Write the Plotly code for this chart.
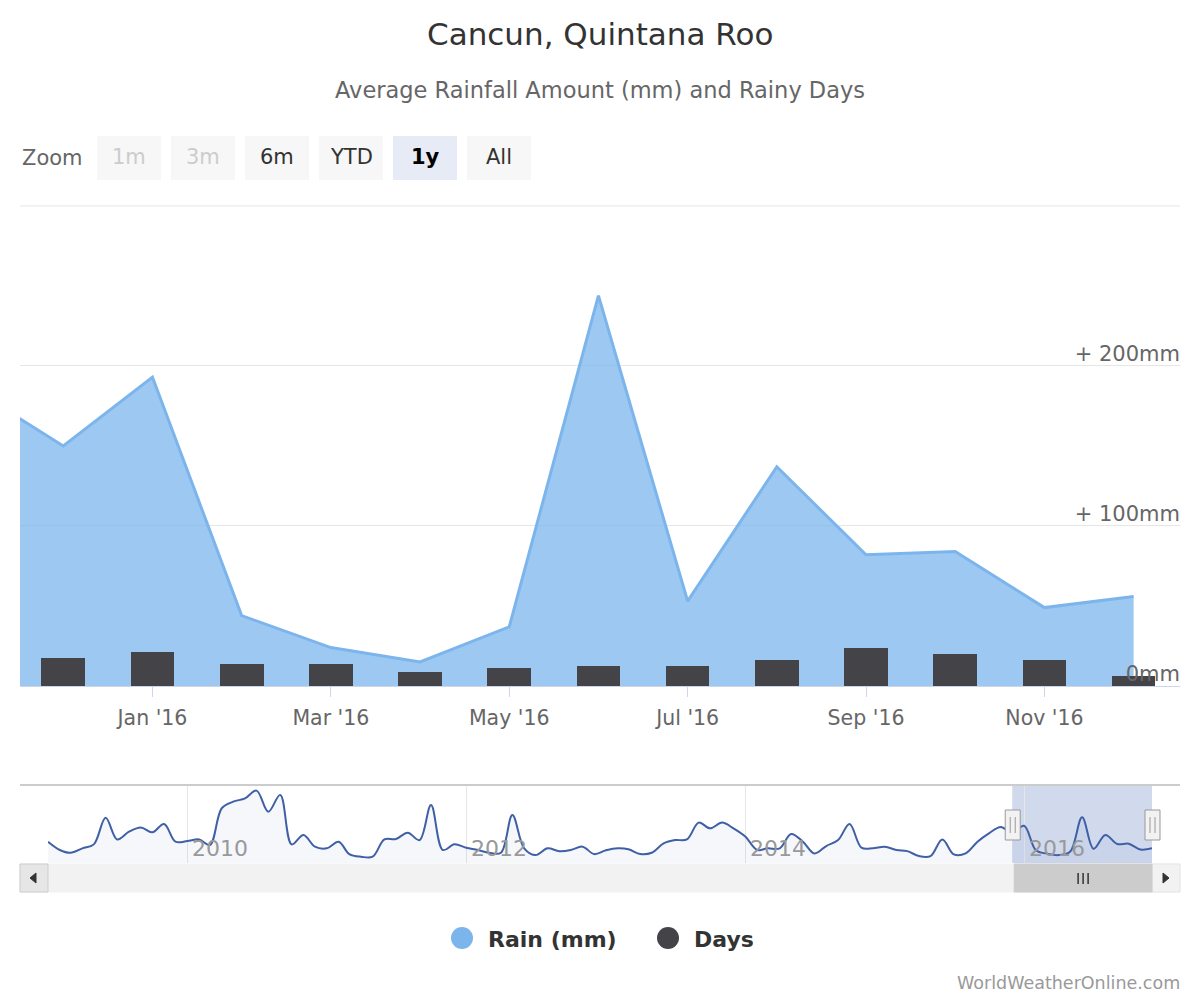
import plotly.graph_objects as go
import pandas as pd

# ---------------- data ----------------
main_months = ["2015-11-01", "2015-12-01", "2016-01-01", "2016-02-01", "2016-03-01",
               "2016-04-01", "2016-05-01", "2016-06-01", "2016-07-01", "2016-08-01",
               "2016-09-01", "2016-10-01", "2016-11-01", "2016-12-01"]
rain_mm = [185, 150, 193, 44, 24, 15, 37, 244, 53, 137, 82, 84, 49, 56]

day_months = main_months[1:]
rainy_days = [14, 17, 11, 11, 7, 9, 10, 10, 13, 19, 16, 13, 5]

history_start = "2009-01-01"
rain_history = [96, 46, 29, 56, 80, 242, 110, 157, 183, 153, 204, 96,
                100, 110, 76, 299, 339, 359, 406, 278, 380, 80, 137, 66,
                56, 96, 21, 5, 5, 110, 112, 151, 106, 319, 46, 80,
                60, 46, 29, 29, 258, 56, 15, 56, 39, 46, 66, 21,
                44, 56, 50, 21, 29, 86, 106, 110, 212, 177, 212, 177,
                127, 46, 56, 56, 143, 96, 25, 70, 106, 204, 60, 56,
                66, 46, 39, 9, 9, 110, 19, 25, 96, 147]

x_tick_vals = ["2016-01-01", "2016-03-01", "2016-05-01", "2016-07-01", "2016-09-01", "2016-11-01"]
x_tick_text = ["Jan '16", "Mar '16", "May '16", "Jul '16", "Sep '16", "Nov '16"]
y_tick_vals = [0, 100, 200, 300]
y_tick_text = ["0mm", "+ 100mm", "+ 200mm", ""]
y_max = 300
nav_years = ["2010", "2012", "2014", "2016"]
zoom_buttons = ["1m", "3m", "6m", "YTD", "1y", "All"]
zoom_state = ["off", "off", "on", "on", "sel", "on"]
selection = ["2015-12-01", "2016-12-01"]

# ---------------- helpers ----------------
W, H = 1200, 1000
def px(x):
    return x / W
def py(y):
    return 1 - y / H

FONT = "DejaVu Sans"

nav_dates = pd.date_range(history_start, periods=len(rain_history) + len(rain_mm), freq="MS")
nav_values = rain_history + rain_mm
NAV_L, NAV_R = 48, 1152
nav_t0, nav_t1 = pd.Timestamp(nav_dates[0]), pd.Timestamp(nav_dates[-1])
def nav_px(d):
    t = pd.Timestamp(d)
    return NAV_L + (t - nav_t0) / (nav_t1 - nav_t0) * (NAV_R - NAV_L)

fig = go.Figure()

# main area (ordinal month axis)
fig.add_trace(go.Scatter(
    x=main_months, y=rain_mm, mode="lines", name="Rain (mm)",
    line=dict(color="#7cb5ec", width=3), fill="tozeroy",
    fillcolor="rgba(124,181,236,0.75)", xaxis="x", yaxis="y", showlegend=False,
    hoverinfo="skip"))

# days bars
fig.add_trace(go.Bar(
    x=day_months, y=rainy_days, name="Days", marker=dict(color="#434348", line=dict(width=0)),
    width=0.49, xaxis="x", yaxis="y2", showlegend=False, hoverinfo="skip"))

# navigator baseline + series
fig.add_trace(go.Scatter(
    x=nav_dates, y=[-33] * len(nav_dates), mode="lines", line=dict(width=0),
    xaxis="x2", yaxis="y3", showlegend=False, hoverinfo="skip"))
fig.add_trace(go.Scatter(
    x=nav_dates, y=nav_values, mode="lines", line=dict(color="#3f5fa6", width=2, shape="spline"),
    fill="tonexty", fillcolor="rgba(51,92,173,0.05)",
    xaxis="x2", yaxis="y3", showlegend=False, hoverinfo="skip"))

shapes = []
annotations = []

# top grid line of main plot
shapes.append(dict(type="line", xref="paper", yref="y", x0=px(20), x1=px(1180), y0=y_max, y1=y_max,
                   line=dict(color="#e6e6e6", width=1), layer="below"))

# title and subtitle
annotations.append(dict(text="Cancun, Quintana Roo", x=0.5, y=py(34), xref="paper", yref="paper",
                        showarrow=False, font=dict(family=FONT, size=31, color="#333333"),
                        xanchor="center", yanchor="middle"))
annotations.append(dict(text="Average Rainfall Amount (mm) and Rainy Days", x=0.5, y=py(90),
                        xref="paper", yref="paper", showarrow=False,
                        font=dict(family=FONT, size=22.5, color="#666666"),
                        xanchor="center", yanchor="middle"))

# zoom label and buttons
annotations.append(dict(text="Zoom", x=px(20), y=py(158), xref="paper", yref="paper", showarrow=False,
                        font=dict(family=FONT, size=21, color="#666666"),
                        xanchor="left", yanchor="middle"))
bx = 97
for label, state in zip(zoom_buttons, zoom_state):
    fill = "#e6ebf5" if state == "sel" else "#f7f7f7"
    shapes.append(dict(type="rect", xref="paper", yref="paper", x0=px(bx), x1=px(bx + 64),
                       y0=py(180), y1=py(136), fillcolor=fill, line=dict(width=0), layer="above"))
    col = "#cccccc" if state == "off" else ("#000000" if state == "sel" else "#333333")
    txt = f"<b>{label}</b>" if state == "sel" else label
    annotations.append(dict(text=txt, x=px(bx + 32), y=py(157), xref="paper", yref="paper",
                            showarrow=False, font=dict(family=FONT, size=21, color=col),
                            xanchor="center", yanchor="middle"))
    bx += 74

# navigator top line
shapes.append(dict(type="line", xref="paper", yref="paper", x0=px(20), x1=px(1180),
                   y0=py(785), y1=py(785), line=dict(color="#cccccc", width=2), layer="above"))
# navigator mask
shapes.append(dict(type="rect", xref="x2", yref="paper", x0=selection[0], x1=selection[1],
                   y0=py(863), y1=py(785), fillcolor="rgba(102,133,194,0.3)",
                   line=dict(width=0), layer="between"))
# handles
for d in selection:
    hx = nav_px(d)
    shapes.append(dict(type="rect", xref="paper", yref="paper", x0=px(hx - 7), x1=px(hx + 8),
                       y0=py(840), y1=py(810), fillcolor="#f2f2f2",
                       line=dict(color="#999999", width=1), layer="above"))
    for off in (-2, 3):
        shapes.append(dict(type="line", xref="paper", yref="paper", x0=px(hx + off), x1=px(hx + off),
                           y0=py(833), y1=py(817),
                           line=dict(color="#999999", width=1), layer="above"))
# navigator year labels
for yr in nav_years:
    annotations.append(dict(text=yr, x=f"{yr}-01-01", y=py(848), xref="x2", yref="paper",
                            showarrow=False, xanchor="left", yanchor="middle", xshift=3,
                            font=dict(family=FONT, size=22, color="#999999")))

# scrollbar
shapes.append(dict(type="rect", xref="paper", yref="paper", x0=px(20), x1=px(1180),
                   y0=py(892), y1=py(864), fillcolor="#f2f2f2", line=dict(color="#f2f2f2", width=1),
                   layer="above"))
shapes.append(dict(type="rect", xref="paper", yref="paper", x0=px(20), x1=px(48),
                   y0=py(892), y1=py(864), fillcolor="#e6e6e6", line=dict(color="#cccccc", width=1),
                   layer="above"))
shapes.append(dict(type="rect", xref="paper", yref="paper", x0=px(1152), x1=px(1180),
                   y0=py(892), y1=py(864), fillcolor="#f2f2f2", line=dict(color="#e6e6e6", width=1),
                   layer="above"))
thumb_l, thumb_r = nav_px(selection[0]) + 2, nav_px(selection[1])
shapes.append(dict(type="rect", xref="paper", yref="paper", x0=px(thumb_l), x1=px(thumb_r),
                   y0=py(892), y1=py(864), fillcolor="#cccccc", line=dict(color="#cccccc", width=1),
                   layer="above"))
mid = (thumb_l + thumb_r) / 2
for off in (-5, 0, 5):
    shapes.append(dict(type="line", xref="paper", yref="paper", x0=px(mid + off), x1=px(mid + off),
                       y0=py(884), y1=py(873), line=dict(color="#333333", width=1.5), layer="above"))
def tri(points):
    return "M " + " L ".join(f"{px(a)} {py(b)}" for a, b in points) + " Z"
shapes.append(dict(type="path", xref="paper", yref="paper", path=tri([(36, 873), (30, 878), (36, 883)]),
                   fillcolor="#333333", line=dict(color="#333333", width=1), layer="above"))
shapes.append(dict(type="path", xref="paper", yref="paper", path=tri([(1163, 873), (1169, 878), (1163, 883)]),
                   fillcolor="#333333", line=dict(color="#333333", width=1), layer="above"))

# legend
legend_items = [("Rain (mm)", "#7cb5ec", 462), ("Days", "#434348", 668)]
for name, col, cx in legend_items:
    shapes.append(dict(type="circle", xref="paper", yref="paper", x0=px(cx - 11), x1=px(cx + 11),
                       y0=py(949), y1=py(927), fillcolor=col, line=dict(width=0), layer="above"))
    annotations.append(dict(text=f"<b>{name}</b>", x=px(cx + 24), y=py(939), xref="paper", yref="paper",
                            showarrow=False, xanchor="left", yanchor="middle",
                            font=dict(family=FONT, size=22, color="#333333")))

# credits
annotations.append(dict(text="WorldWeatherOnline.com", x=px(1182), y=py(983), xref="paper", yref="paper",
                        showarrow=False, xanchor="right", yanchor="middle",
                        font=dict(family=FONT, size=17.5, color="#999999")))

fig.update_layout(
    width=W, height=H, margin=dict(l=0, r=0, t=0, b=0),
    paper_bgcolor="white", plot_bgcolor="white",
    showlegend=False, bargap=0,
    xaxis=dict(domain=[px(20), px(1180)], anchor="y", type="category",
               categoryorder="array", categoryarray=main_months,
               range=[0.515, 13.52],
               tickvals=x_tick_vals, ticktext=x_tick_text,
               ticks="outside", ticklen=10, tickcolor="#ccd6eb", tickwidth=1,
               showline=True, linecolor="#ccd6eb", linewidth=1,
               showgrid=False, zeroline=False, ticklabelstandoff=3,
               tickfont=dict(family=FONT, size=20.5, color="#666666")),
    yaxis=dict(domain=[py(686), py(205)], anchor="x", side="right", range=[0, 300.6],
               tickvals=y_tick_vals, ticktext=y_tick_text,
               ticklabelposition="inside", ticklabeloverflow="allow",
               ticklabelshift=-12, ticklabelstandoff=-3, ticks="",
               showgrid=True, gridcolor="#e6e6e6", gridwidth=1, zeroline=False, showline=False,
               tickfont=dict(family=FONT, size=21, color="#666666")),
    yaxis2=dict(overlaying="y", range=[0, 240.5], visible=False, anchor="x"),
    xaxis2=dict(domain=[px(NAV_L), px(NAV_R)], anchor="y3", type="date",
                range=[nav_dates[0], nav_dates[-1]],
                tickvals=[f"{y}-01-01" for y in nav_years], showticklabels=False,
                showgrid=True, gridcolor="#e6e6e6", gridwidth=1, zeroline=False, showline=False,
                ticks=""),
    yaxis3=dict(domain=[py(863), py(785)], anchor="x2", range=[-33, 440], visible=False),
    shapes=shapes, annotations=annotations,
)

fig.write_html("out.html")
